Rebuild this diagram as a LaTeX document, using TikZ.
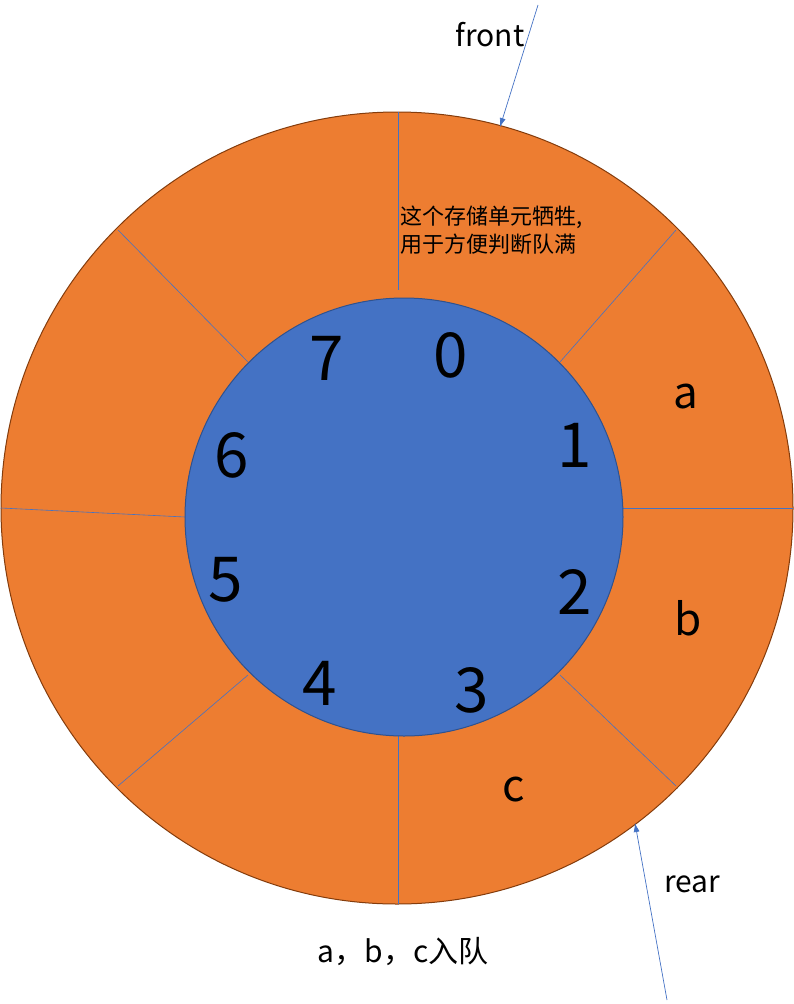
\documentclass[tikz,border=0pt]{standalone}
\usepackage{fontspec}
\setmainfont{Noto Sans CJK SC}
\usetikzlibrary{arrows.meta}
\definecolor{org}{HTML}{ED7D31}
\definecolor{blu}{HTML}{4472C4}
\definecolor{brn}{HTML}{843C0C}
\definecolor{dblu}{HTML}{2F528F}
\tikzset{div/.style={blu,line width=0.6pt},
 num/.style={font=\fontsize{62}{62}\selectfont},
 let/.style={font=\fontsize{44}{44}\selectfont},
 lbl/.style={font=\fontsize{30}{30}\selectfont},
 ptr/.style={blu,line width=0.7pt,-{Latex[length=9pt,width=6pt]}}}
\begin{document}
\begin{tikzpicture}[x=1pt,y=-1pt]
\useasboundingbox (0,0) rectangle (794,1004);
\node[circle,fill=org,draw=brn,line width=1pt,minimum size=792pt,inner sep=0pt] (outer) at (397,508) {};
\draw[div] (398,112) -- (398,290);
\draw[div] (623,508) -- (793,508);
\draw[div] (398,736) -- (398,904);
\draw[div] (1,508) -- (185,517);
\draw[div] (118,230) -- (248,362);
\draw[div] (560,362) -- (676,230);
\draw[div] (560,675) -- (676,786);
\draw[div] (118,786) -- (248,675);
\node[circle,fill=blu,draw=dblu,line width=1pt,minimum size=438pt,inner sep=0pt] (inner) at (404,517) {};
\node[num] (n0) at (451,355) {0};
\node[num] (n1) at (575,445) {1};
\node[num] (n2) at (575,592) {2};
\node[num] (n3) at (472,690) {3};
\node[num] (n4) at (320,683) {4};
\node[num] (n5) at (226,580) {5};
\node[num] (n6) at (232,455) {6};
\node[num] (n7) at (327,358) {7};
\node[let] (la) at (686,397) {a};
\node[let] (lb) at (688,618) {b};
\node[let] (lc) at (514,790) {c};
\node[font=\fontsize{22}{28}\selectfont,align=left,anchor=west] (note) at (397,230) {这个存储单元牺牲,\\用于方便判断队满};
\node[lbl] (front) at (490,35) {front};
\node[lbl] (rear) at (692,884) {rear};
\node[lbl] (cap) at (403,952) {a，b，c入队};
\coordinate (fs) at (538,5);
\coordinate (fe) at (500,127);
\coordinate (rs) at (667,1000);
\coordinate (re) at (635,823);
\draw[ptr] (fs) -- (fe);
\draw[ptr] (rs) -- (re);
\end{tikzpicture}
\end{document}
